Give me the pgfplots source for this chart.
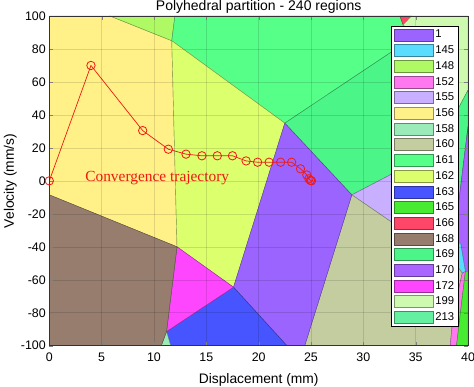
\documentclass[border=0pt]{standalone}
\usepackage{pgfplots}
\pgfplotsset{compat=1.18}
\usepackage{fontspec}
\setmainfont{Liberation Sans}
\newfontfamily\serifF{Liberation Serif}
\definecolor{c1}{RGB}{155,100,255}
\definecolor{c145}{RGB}{90,220,255}
\definecolor{c148}{RGB}{175,250,100}
\definecolor{c152}{RGB}{255,120,240}
\definecolor{c155}{RGB}{200,175,255}
\definecolor{c156}{RGB}{255,240,136}
\definecolor{c158}{RGB}{155,235,185}
\definecolor{c160}{RGB}{195,205,160}
\definecolor{c161}{RGB}{85,255,136}
\definecolor{c162}{RGB}{220,255,110}
\definecolor{c163}{RGB}{70,85,255}
\definecolor{c165}{RGB}{70,235,50}
\definecolor{c166}{RGB}{255,70,105}
\definecolor{c168}{RGB}{150,125,110}
\definecolor{c169}{RGB}{75,245,135}
\definecolor{c170}{RGB}{170,100,255}
\definecolor{c172}{RGB}{255,70,255}
\definecolor{c199}{RGB}{205,250,175}
\definecolor{c213}{RGB}{100,240,160}
\definecolor{trajred}{RGB}{240,25,20}
\pgfplotsset{
  reg/.style={fill=#1, draw=#1!60!black, line width=0.4pt, forget plot},
  leg/.style={legend image code/.code={\draw[fill=#1,draw=#1!60!black,line width=0.6pt] (0pt,-6pt) rectangle (39pt,6pt);}},
}
\begin{document}
\begin{tikzpicture}
\begin{axis}[
  name=ax,
  scale only axis,
  width=418.7pt, height=329.7pt,
  xmin=0, xmax=40, ymin=-100, ymax=100,
  xtick={0,5,...,40}, ytick={-100,-80,...,100},
  tick align=inside, major tick length=4pt,
  axis on top,
  grid=major,
  grid style={black, opacity=0.12, line width=0.5pt},
  axis line style={black!80, line width=0.5pt},
  /pgf/number format/assume math mode=true,
  ticklabel style={font=\fontsize{12.4}{12.4}\selectfont},
  xticklabel style={yshift=-4pt},
  title={Polyhedral partition - 240 regions},
  title style={font=\fontsize{14}{14}\selectfont, at={(axis description cs:0.5,1)}, anchor=base, yshift=-1pt},
  xlabel={Displacement (mm)},
  xlabel style={font=\fontsize{13.8}{13.8}\selectfont, at={(axis description cs:0.5,0)}, anchor=base, yshift=-37.5pt},
  legend style={at={(1,1)}, anchor=north east, xshift=-10pt, yshift=-10pt,
    font=\fontsize{11.3}{11.3}\selectfont, draw=black, fill=white, line width=0.5pt,
    inner xsep=2.5pt, inner ysep=2.3pt, row sep=3.1pt, column sep=1pt,
    nodes={inner sep=1pt}},
  legend cell align=left,
]
% regions
\addplot[reg=c156] coordinates {(0,100) (5.8,100) (11.7,85) (12.2,-40) (0,-8.5)} -- cycle;
\addplot[reg=c148] coordinates {(5.8,100) (12.0,100) (11.7,85)} -- cycle;
\addplot[reg=c161] coordinates {(12.0,100) (33.5,100) (33.8,94.6) (35,88) (22.5,35) (11.7,85)} -- cycle;
\addplot[reg=c166] coordinates {(33.5,100) (34.6,100) (33.8,94.6)} -- cycle;
\addplot[reg=c199] coordinates {(34.6,100) (40,100) (40,55) (39.0,43) (35,88) (33.8,94.6)} -- cycle;
\addplot[reg=c169] coordinates {(22.5,35) (35,88) (39.0,43) (40,55) (40,33) (39.0,-19) (36,15) (28.9,-8.5)} -- cycle;
\addplot[reg=c155] coordinates {(28.9,-8.5) (36,15) (39.0,-19) (39.0,-52) (32.4,-23.7)} -- cycle;
\addplot[reg=c170] coordinates {(40,33) (39.0,-19) (39.0,-38) (39.3,-38) (39.75,-55) (40,-55)} -- cycle;
\addplot[reg=c145] coordinates {(39.0,-38) (39.3,-38) (39.75,-55) (39.45,-56) (39.0,-52)} -- cycle;
\addplot[reg=c160] coordinates {(28.9,-8.5) (32.4,-23.7) (39.0,-52) (39.45,-56) (38.6,-80) (38.3,-100) (24.4,-100)} -- cycle;
\addplot[reg=c152] coordinates {(38.3,-100) (38.9,-100) (39.75,-55) (39.45,-56) (38.6,-80)} -- cycle;
\addplot[reg=c165] coordinates {(38.9,-100) (40,-100) (40,-55) (39.75,-55)} -- cycle;
\addplot[reg=c162] coordinates {(11.7,85) (22.5,35) (17.6,-64.5) (12.2,-40)} -- cycle;
\addplot[reg=c1] coordinates {(22.5,35) (28.9,-8.5) (24.4,-100) (22.7,-100) (17.6,-64.5)} -- cycle;
\addplot[reg=c163] coordinates {(17.6,-64.5) (22.7,-100) (11.6,-100) (11.2,-91.4)} -- cycle;
\addplot[reg=c172] coordinates {(12.2,-40) (17.6,-64.5) (11.2,-91.4)} -- cycle;
\addplot[reg=c158] coordinates {(11.2,-91.4) (11.6,-100) (10.7,-100)} -- cycle;
\addplot[reg=c168] coordinates {(0,-8.5) (12.2,-40) (11.2,-91.4) (10.7,-100) (0,-100)} -- cycle;
% trajectory
\addplot[color=trajred, line width=0.7pt, mark=o, mark size=4.2pt, mark options={line width=0.8pt}, forget plot] coordinates {
(0,0) (3.98,70) (8.92,30.5) (11.37,19.2) (13.06,16.2) (14.58,15.2) (16.05,15.2) (17.5,15.2)
(18.8,12.1) (19.9,11.3) (21.0,11.3) (22.1,11.3) (23.15,11.3) (24.0,7.3) (24.6,3.6) (24.8,1.2) (24.95,0.3) (25.05,0)};
\node[anchor=base west, text=trajred, font=\serifF\fontsize{15.4}{15.4}\selectfont, inner sep=0pt] at (axis cs:3.42,-0.6) {Convergence trajectory};
% legend
\addlegendimage{leg=c1}\addlegendentry{1}
\addlegendimage{leg=c145}\addlegendentry{145}
\addlegendimage{leg=c148}\addlegendentry{148}
\addlegendimage{leg=c152}\addlegendentry{152}
\addlegendimage{leg=c155}\addlegendentry{155}
\addlegendimage{leg=c156}\addlegendentry{156}
\addlegendimage{leg=c158}\addlegendentry{158}
\addlegendimage{leg=c160}\addlegendentry{160}
\addlegendimage{leg=c161}\addlegendentry{161}
\addlegendimage{leg=c162}\addlegendentry{162}
\addlegendimage{leg=c163}\addlegendentry{163}
\addlegendimage{leg=c165}\addlegendentry{165}
\addlegendimage{leg=c166}\addlegendentry{166}
\addlegendimage{leg=c168}\addlegendentry{168}
\addlegendimage{leg=c169}\addlegendentry{169}
\addlegendimage{leg=c170}\addlegendentry{170}
\addlegendimage{leg=c172}\addlegendentry{172}
\addlegendimage{leg=c199}\addlegendentry{199}
\addlegendimage{leg=c213}\addlegendentry{213}
\end{axis}
\node[rotate=90, anchor=base, inner sep=0pt, font=\fontsize{13.8}{13.8}\selectfont] at ([xshift=-35.5pt]ax.west) {Velocity (mm/s)};
\pgfresetboundingbox
\path[use as bounding box] ([xshift=-49.3pt,yshift=-40.3pt]ax.south west) rectangle ([xshift=6pt,yshift=16pt]ax.north east);
\end{tikzpicture}
\end{document}
